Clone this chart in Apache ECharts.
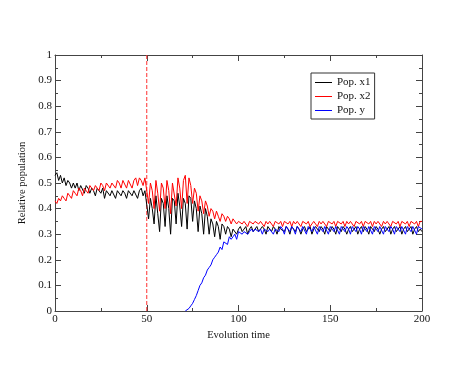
<!DOCTYPE html>
<html>
<head>
<meta charset="utf-8">
<script src="https://cdn.jsdelivr.net/npm/echarts@6/dist/echarts.min.js"></script>
<style>html,body{margin:0;padding:0;background:#fff}#c{width:474px;height:366px}</style>
</head>
<body>
<div id="c"></div>
<script>
// Pop. x1 values at t = 0,1,2,...,200
const x1Vals = [
0.53,0.54,0.51,0.53,0.50,0.52,0.49,0.51,0.50,0.48,
0.50,0.48,0.50,0.47,0.49,0.49,0.46,0.49,0.48,0.46,
0.48,0.47,0.45,0.48,0.47,0.46,0.48,0.44,0.47,0.47,
0.45,0.47,0.47,0.44,0.47,0.47,0.45,0.47,0.46,0.44,
0.47,0.47,0.45,0.47,0.47,0.44,0.47,0.48,0.45,0.47,
0.47,0.36,0.44,0.40,0.34,0.45,0.38,0.31,0.44,0.42,
0.33,0.45,0.40,0.30,0.44,0.43,0.34,0.46,0.41,0.33,
0.44,0.42,0.32,0.45,0.44,0.35,0.43,0.40,0.31,0.41,
0.38,0.30,0.40,0.37,0.30,0.36,0.34,0.29,0.35,0.33,
0.28,0.34,0.33,0.30,0.33,0.32,0.29,0.32,0.32,0.30,
0.32,0.33,0.31,0.32,0.33,0.30,0.32,0.33,0.31,0.32,
0.33,0.31,0.32,0.33,0.32,0.30,0.33,0.32,0.31,0.33,
0.32,0.30,0.33,0.32,0.32,0.31,0.33,0.32,0.30,0.33,
0.32,0.31,0.33,0.32,0.30,0.32,0.33,0.31,0.32,0.33,
0.30,0.32,0.33,0.32,0.31,0.33,0.32,0.30,0.33,0.32,
0.31,0.33,0.32,0.30,0.33,0.32,0.31,0.33,0.32,0.30,
0.32,0.33,0.31,0.32,0.33,0.30,0.32,0.33,0.31,0.33,
0.32,0.30,0.33,0.32,0.31,0.33,0.32,0.30,0.32,0.33,
0.31,0.32,0.33,0.30,0.32,0.33,0.31,0.32,0.33,0.30,
0.32,0.33,0.31,0.32,0.33,0.30,0.32,0.33,0.31,0.32,0.31
];
// Pop. x2 values at t = 0,1,2,...,200
const x2Vals = [
0.43,0.42,0.44,0.43,0.45,0.44,0.43,0.46,0.45,0.44,
0.47,0.46,0.45,0.48,0.47,0.45,0.48,0.47,0.46,0.49,
0.48,0.47,0.49,0.49,0.47,0.50,0.49,0.47,0.50,0.50,
0.48,0.50,0.50,0.48,0.51,0.50,0.48,0.51,0.51,0.48,
0.51,0.51,0.48,0.51,0.52,0.49,0.52,0.51,0.49,0.52,
0.52,0.42,0.50,0.47,0.40,0.51,0.46,0.39,0.50,0.48,
0.40,0.51,0.47,0.38,0.50,0.50,0.41,0.52,0.48,0.40,
0.51,0.53,0.42,0.52,0.49,0.42,0.48,0.46,0.39,0.45,
0.43,0.38,0.43,0.41,0.37,0.40,0.39,0.36,0.39,0.37,
0.35,0.38,0.37,0.35,0.37,0.36,0.34,0.36,0.36,0.34,
0.35,0.35,0.34,0.35,0.35,0.33,0.35,0.35,0.34,0.35,
0.35,0.34,0.35,0.35,0.33,0.35,0.34,0.35,0.35,0.33,
0.35,0.35,0.34,0.35,0.33,0.35,0.35,0.34,0.35,0.33,
0.35,0.34,0.35,0.35,0.33,0.35,0.35,0.34,0.35,0.33,
0.34,0.35,0.35,0.33,0.35,0.34,0.35,0.35,0.33,0.35,
0.35,0.34,0.35,0.33,0.35,0.35,0.34,0.35,0.33,0.35,
0.34,0.35,0.35,0.33,0.35,0.35,0.34,0.35,0.33,0.35,
0.35,0.34,0.35,0.33,0.35,0.34,0.35,0.35,0.33,0.35,
0.34,0.35,0.35,0.33,0.35,0.35,0.34,0.35,0.33,0.35,
0.35,0.34,0.35,0.33,0.35,0.35,0.34,0.35,0.33,0.35,0.35
];
// Pop. y values at t = 71,72,...,200 (zero before)
const yStart = 71;
const yVals = [
0,0.005,0.01,0.02,0.03,0.045,0.06,0.08,0.10,
0.11,0.13,0.14,0.16,0.17,0.18,0.20,0.21,0.22,0.23,
0.25,0.24,0.27,0.27,0.26,0.29,0.28,0.29,0.30,0.28,
0.31,0.31,0.30,0.31,0.31,0.30,0.31,0.32,0.31,0.32,
0.32,0.31,0.32,0.30,0.32,0.32,0.31,0.32,0.32,0.30,
0.32,0.32,0.31,0.33,0.32,0.30,0.33,0.32,0.31,0.33,
0.32,0.30,0.33,0.32,0.31,0.33,0.33,0.30,0.33,0.32,
0.31,0.33,0.33,0.30,0.33,0.32,0.31,0.33,0.33,0.30,
0.33,0.32,0.31,0.33,0.33,0.30,0.33,0.33,0.31,0.33,
0.32,0.30,0.33,0.33,0.31,0.33,0.32,0.30,0.33,0.33,
0.31,0.33,0.33,0.30,0.33,0.32,0.31,0.33,0.33,0.30,
0.33,0.33,0.31,0.33,0.32,0.30,0.33,0.33,0.31,0.33,
0.33,0.30,0.33,0.32,0.31,0.33,0.33,0.30,0.33,0.33,0.32
];
const seriesNames = ['Pop. x1', 'Pop. x2', 'Pop. y'];
const seriesColors = ['#000000', '#ff0000', '#0000ff'];
const xTicks = [0, 50, 100, 150, 200];
const yTicks = [0, 0.1, 0.2, 0.3, 0.4, 0.5, 0.6, 0.7, 0.8, 0.9, 1];
const markerTime = 50;
const markerRange = [0, 1];

const font = 'Liberation Serif';
const axisColor = '#444';
const chart = echarts.init(document.getElementById('c'));
const pairs = (arr, start) => arr.map((v, i) => [start + i, v]);

const baseAxis = {
  axisLine: { show: true, onZero: false, lineStyle: { color: axisColor, width: 1 } },
  axisTick: { show: true, inside: true, length: 6, lineStyle: { color: axisColor } },
  minorTick: { show: true, splitNumber: 2, length: 3, lineStyle: { color: axisColor } },
  splitLine: { show: false },
  minorSplitLine: { show: false }
};

function lineSeries(idx, data) {
  return {
    name: seriesNames[idx], type: 'line', symbol: 'none', showSymbol: false, data: data,
    color: seriesColors[idx],
    lineStyle: { color: seriesColors[idx], width: 1 },
    itemStyle: { color: seriesColors[idx], borderColor: seriesColors[idx] }
  };
}

const s1 = lineSeries(0, pairs(x1Vals, 0));
const s2 = lineSeries(1, pairs(x2Vals, 0));
const s3 = lineSeries(2, pairs(yVals, yStart));
const sMarker = {
  name: 'marker', type: 'line', symbol: 'none', showSymbol: false, silent: true,
  data: markerRange.map(v => [markerTime, v]),
  color: '#ff3030',
  lineStyle: { color: '#ff3030', width: 1, type: [4, 2] },
  itemStyle: { color: '#ff3030' }
};

chart.setOption({
  animation: false,
  backgroundColor: '#fff',
  color: seriesColors,
  textStyle: { fontFamily: font },
  grid: { left: 55, right: 52, top: 55, bottom: 55, containLabel: false },
  legend: {
    data: seriesNames.map((n, i) => ({
      name: n,
      icon: 'rect',
      itemStyle: { color: seriesColors[i], borderColor: seriesColors[i], borderWidth: 0 },
      lineStyle: { color: seriesColors[i], width: 0 }
    })),
    orient: 'vertical',
    left: 311, top: 73,
    itemWidth: 17, itemHeight: 1, itemGap: 1,
    padding: [3, 4, 2, 4],
    borderColor: '#333', borderWidth: 1,
    textStyle: { fontFamily: font, fontSize: 11, color: '#111', lineHeight: 13 }
  },
  xAxis: [
    Object.assign({}, baseAxis, {
      type: 'value', min: xTicks[0], max: xTicks[xTicks.length - 1], interval: xTicks[1] - xTicks[0],
      position: 'bottom',
      name: 'Evolution time', nameLocation: 'middle', nameGap: 11,
      nameTextStyle: { fontFamily: font, fontSize: 10.5, color: '#111' },
      axisLabel: { fontFamily: font, fontSize: 11, color: '#111', margin: 3 }
    }),
    Object.assign({}, baseAxis, {
      type: 'value', min: xTicks[0], max: xTicks[xTicks.length - 1], interval: xTicks[1] - xTicks[0],
      position: 'top', axisLabel: { show: false }
    })
  ],
  yAxis: [
    Object.assign({}, baseAxis, {
      type: 'value', min: yTicks[0], max: yTicks[yTicks.length - 1], interval: 0.1,
      position: 'left',
      name: 'Relative population', nameLocation: 'middle', nameGap: 11, nameRotate: 90,
      nameTextStyle: { fontFamily: font, fontSize: 10.5, color: '#111' },
      axisLabel: { fontFamily: font, fontSize: 11, color: '#111', margin: 3,
        formatter: v => String(Math.round(v * 10) / 10) }
    }),
    Object.assign({}, baseAxis, {
      type: 'value', min: yTicks[0], max: yTicks[yTicks.length - 1], interval: 0.1,
      position: 'right', axisLabel: { show: false }
    })
  ],
  series: [sMarker, s1, s2, s3]
});
</script>
</body>
</html>
